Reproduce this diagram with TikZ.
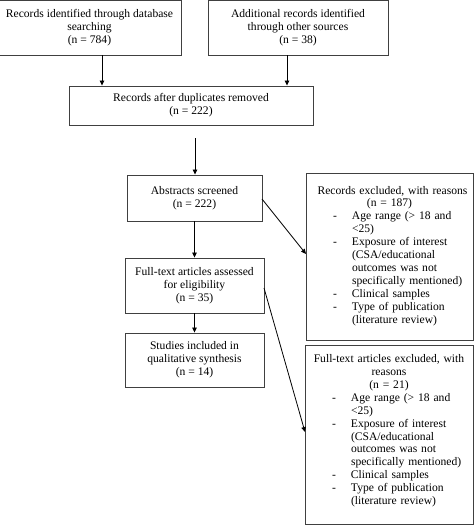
\documentclass[tikz,border=0pt]{standalone}
\usepackage{fontspec}
\setmainfont{Liberation Serif}
\usetikzlibrary{arrows.meta}
\newcommand{\flowfont}{\fontsize{11.6}{12.9}\selectfont}
\tikzset{
  box/.style={draw=black!75, line width=0.9pt, rectangle, inner sep=0pt, align=center, font=\flowfont},
  listbox/.style={draw=black!75, line width=0.9pt, rectangle, inner xsep=3pt, inner ysep=0pt, font=\flowfont},
  arr/.style={draw=black, line width=0.8pt, -{Triangle[length=5pt,width=4.5pt]}},
}
\begin{document}
\begin{tikzpicture}[x=1pt,y=-1pt]
\useasboundingbox (0,0) rectangle (474,527);
\node[box, minimum width=183pt, minimum height=55pt] (b1) at (89.5,27.5)
  {Records identified through database\\searching\\(n = 784)};
\node[box, minimum width=180pt, minimum height=55pt] (b2) at (298,27.5)
  {Additional records identified\\through other sources\\(n = 38)};
\node[box, minimum width=244pt, minimum height=39pt] (b3) at (191,105.5)
  {Records after duplicates removed\\(n = 222)};
\node[box, minimum width=135pt, minimum height=46pt] (b4) at (194.5,198)
  {Abstracts screened\\(n = 222)};
\node[box, minimum width=139pt, minimum height=55pt] (b5) at (194.5,285.5)
  {Full-text articles assessed\\for eligibility\\(n = 35)};
\node[box, minimum width=139pt, minimum height=54pt] (b6) at (194.5,360)
  {Studies included in\\qualitative synthesis\\(n = 14)};
\node[listbox, minimum width=167pt, minimum height=167pt, text width=161pt] (b7) at (389.5,256.5)
  {{\centering\hspace*{6pt}Records excluded, with reasons\\(n = 187)\par}%
   \noindent\begin{tabular}[t]{@{\hspace{24pt}}p{19pt}@{}l@{}}
   -&Age range (> 18 and\\
    &<25)\\
   -&Exposure of interest\\
    &(CSA/educational\\
    &outcomes was not\\
    &specifically mentioned)\\
   -&Clinical samples\\
   -&Type of publication\\
    &(literature review)
   \end{tabular}};
\node[listbox, minimum width=168pt, minimum height=179pt, text width=162pt] (b8) at (389,434.5)
  {{\centering Full-text articles excluded, with\\reasons\\(n = 21)\par}%
   \noindent\begin{tabular}[t]{@{\hspace{24pt}}p{19pt}@{}l@{}}
   -&Age range (> 18 and\\
    &<25)\\
   -&Exposure of interest\\
    &(CSA/educational\\
    &outcomes was not\\
    &specifically mentioned)\\
   -&Clinical samples\\
   -&Type of publication\\
    &(literature review)
   \end{tabular}\vspace{6pt}};
\coordinate (c1) at (102,0);
\coordinate (c2) at (287,0);
\coordinate (s3) at (195,138);
\coordinate (e4) at (262,199);
\coordinate (t7) at (306,254);
\coordinate (e5) at (264,288);
\coordinate (t8) at (305,432);
\draw[arr] (c1 |- b1.south) -- (c1 |- b3.north);
\draw[arr] (c2 |- b2.south) -- (c2 |- b3.north);
\draw[arr] (s3) -- (s3 |- b4.north);
\draw[arr] (b4) -- (b5);
\draw[arr] (b5) -- (b6);
\draw[arr] (e4) -- (t7);
\draw[arr] (e5) -- (t8);
\end{tikzpicture}
\end{document}
